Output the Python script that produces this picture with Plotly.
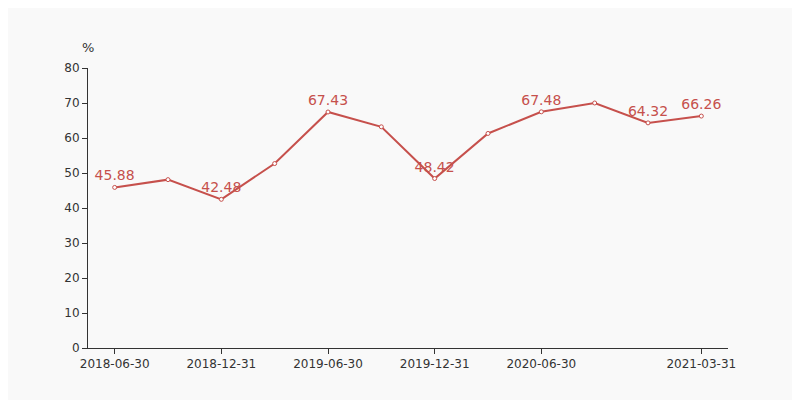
import plotly.graph_objects as go

dates = ["2018-06-30","2018-09-30","2018-12-31","2019-03-31","2019-06-30","2019-09-30",
         "2019-12-31","2020-03-31","2020-06-30","2020-09-30","2020-12-31","2021-03-31"]
values = [45.88, 48.1, 42.48, 52.7, 67.43, 63.2, 48.42, 61.3, 67.48, 70.0, 64.32, 66.26]
labeled = [0, 2, 4, 6, 8, 10, 11]
tick_labels = ["2018-06-30","2018-12-31","2019-06-30","2019-12-31","2020-06-30","2021-03-31"]

color = "#c6504c"
texts = [f"{v:.2f}" if i in labeled else "" for i, v in enumerate(values)]

fig = go.Figure(go.Scatter(
    x=list(range(len(dates))), y=values, mode="lines+markers+text",
    name="前十大重仓股占比（%）",
    line=dict(color=color, width=2),
    marker=dict(size=4, color="white", line=dict(color=color, width=1)),
    text=texts, textposition="top center",
    textfont=dict(color=color, size=14, family="DejaVu Sans"),
))
idx = [dates.index(d) for d in tick_labels]
fig.update_layout(
    width=800, height=400, margin=dict(l=80, r=80, t=60, b=60, autoexpand=False),
    paper_bgcolor="#f9f9f9", plot_bgcolor="#f9f9f9",
    font=dict(family="DejaVu Sans, Noto Sans CJK SC", color="#333", size=12),
    showlegend=True,
    legend=dict(orientation="h", x=0.5, xanchor="center", y=1.27, yanchor="middle",
                font=dict(size=16, family="Noto Sans CJK SC"), bgcolor="rgba(0,0,0,0)"),
    xaxis=dict(range=[-0.5, 11.5], tickvals=idx, ticktext=tick_labels,
               showgrid=False, showline=True, linecolor="#333", ticks="outside",
               ticklen=5, tickcolor="#333", zeroline=False),
    yaxis=dict(range=[0, 80], dtick=10, showgrid=False, showline=True, linecolor="#333",
               ticks="outside", ticklen=5, tickcolor="#333", zeroline=False),
    annotations=[dict(text="%", xref="paper", yref="paper", x=0, y=1.04, xanchor="center",
                      yanchor="bottom", showarrow=False, font=dict(size=13))],
)
fig.write_html("out.html")
